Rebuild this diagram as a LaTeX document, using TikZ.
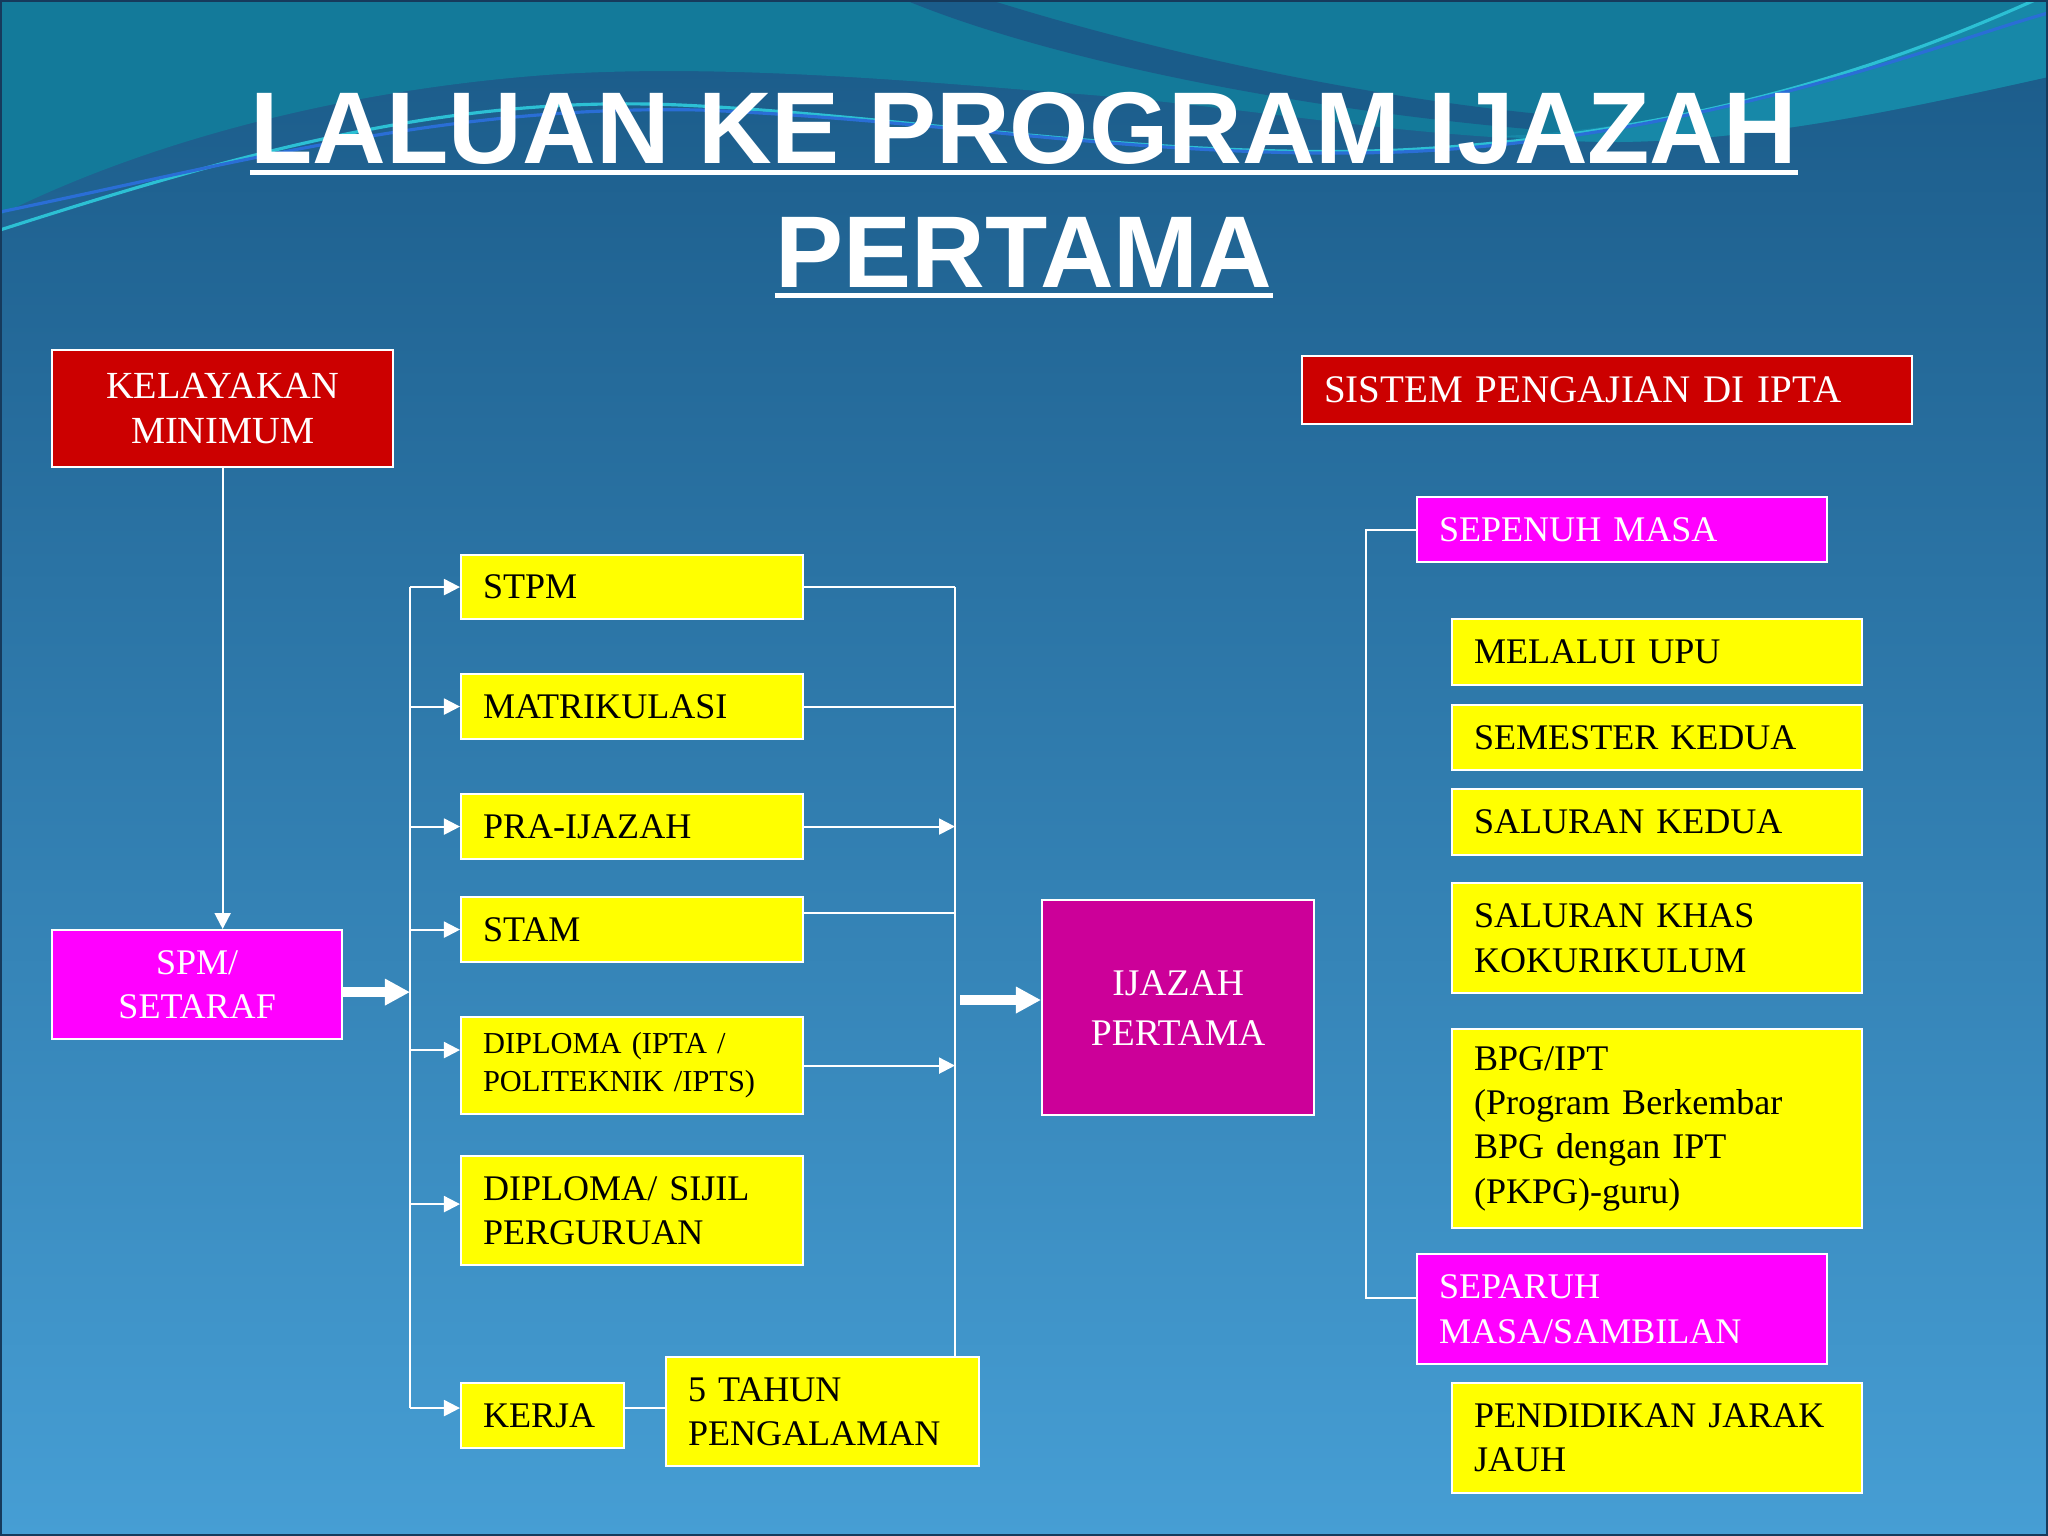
\documentclass[tikz,border=0pt]{standalone}
\usepackage{fontspec}
\setmainfont{Liberation Serif}
\setsansfont{Liberation Sans}
\usetikzlibrary{arrows.meta}
\definecolor{redc}{HTML}{CC0000}
\definecolor{magc}{HTML}{FF00FF}
\definecolor{dmagc}{HTML}{CC0099}
\definecolor{yelc}{HTML}{FFFF00}
\definecolor{bgtop}{HTML}{1A5A88}
\definecolor{bgmid}{HTML}{3182B8}
\definecolor{bgbot}{HTML}{469ED4}
\definecolor{tealc}{HTML}{137A9A}
\definecolor{tealb}{HTML}{1788A8}
\definecolor{swoosh}{HTML}{1A5C8A}
\definecolor{cyanl}{HTML}{2CC0D4}
\definecolor{bluel}{HTML}{2A6ED6}
\definecolor{framec}{HTML}{163A5C}
\tikzset{
  bx/.style={draw=white, line width=0.6pt, inner ysep=0pt, inner xsep=0.22cm,
    anchor=north west, font=\fontsize{10.25}{12.6}\selectfont},
  ybx/.style={bx, fill=yelc, text=black, align=left},
  mbx/.style={bx, fill=magc, text=white, align=left},
  cbx/.style={bx, text=white, align=center},
  titletxt/.style={text=white, inner sep=0pt, font=\sffamily\bfseries\fontsize{29}{35}\selectfont},
  conn/.style={draw=white, line width=0.6pt},
  arr/.style={conn, -{Triangle[length=0.16cm,width=0.16cm]}},
  bigarr/.style={draw=white, line width=0.1cm, -{Triangle[length=0.25cm,width=0.25cm]}}
}
\begin{document}
\begin{tikzpicture}[x=0.01cm,y=-0.01cm]
\useasboundingbox (0,0) rectangle (2048,1536);
% background
\shade[top color=bgtop, middle color=bgmid, bottom color=bgbot] (0,0) rectangle (2048,1536);
\fill[tealc] (0,0) -- (2048,0) -- (2048,77)
  .. controls (1900,110) and (1760,140) .. (1620,142)
  .. controls (1400,140) and (1250,105) .. (1050,92)
  .. controls (850,75) and (700,66) .. (560,74)
  .. controls (350,88) and (150,140) .. (0,215) -- cycle;
\fill[tealb] (1500,136) .. controls (1700,128) and (1900,60) .. (2035,0) -- (2048,0) -- (2048,77)
  .. controls (1900,110) and (1760,140) .. (1620,142) .. controls (1580,142) and (1540,140) .. (1500,136) -- cycle;
\fill[swoosh] (905,0) -- (990,0) .. controls (1150,50) and (1350,95) .. (1540,114)
  -- (1540,130) .. controls (1300,110) and (1050,60) .. (905,0) -- cycle;
\draw[cyanl, line width=0.9pt] (0,230) .. controls (250,150) and (450,95) .. (680,105)
  .. controls (900,115) and (1150,160) .. (1400,150) .. controls (1700,135) and (1900,60) .. (2035,0);
\draw[bluel, line width=0.9pt] (0,212) .. controls (250,160) and (450,105) .. (700,110)
  .. controls (950,120) and (1150,160) .. (1400,152) .. controls (1700,140) and (1950,40) .. (2048,13);
\draw[framec, line width=0.04cm] (0,0) rectangle (2048,1536);
% title
\node[titletxt, anchor=base] (t1) at (1024,163) {LALUAN KE PROGRAM IJAZAH};
\node[titletxt, anchor=base] (t2) at (1024,287) {PERTAMA};
\draw[white, line width=0.05cm] ([yshift=-0.095cm]t1.base west) -- ([yshift=-0.095cm]t1.base east);
\draw[white, line width=0.05cm] ([yshift=-0.085cm]t2.base west) -- ([yshift=-0.085cm]t2.base east);
% left boxes
\node[cbx, fill=redc, minimum width=3.41cm, minimum height=1.17cm, font=\fontsize{10.9}{12.6}\selectfont] (kel) at (51,349) {KELAYAKAN\\MINIMUM};
\node[cbx, fill=magc, minimum width=2.90cm, minimum height=1.09cm] (spm) at (51,929) {SPM/\\SETARAF};
\node[ybx, minimum width=3.42cm, text width=2.98cm, minimum height=0.64cm] (stpm) at (460,554) {STPM};
\node[ybx, minimum width=3.42cm, text width=2.98cm, minimum height=0.65cm] (matrik) at (460,673) {MATRIKULASI};
\node[ybx, minimum width=3.42cm, text width=2.98cm, minimum height=0.65cm] (praij) at (460,793) {PRA-IJAZAH};
\node[ybx, minimum width=3.42cm, text width=2.98cm, minimum height=0.65cm] (stam) at (460,896) {STAM};
\node[ybx, minimum width=3.42cm, text width=2.98cm, minimum height=0.97cm, font=\fontsize{8.65}{10.8}\selectfont] (dip1) at (460,1016) {DIPLOMA (IPTA /\\POLITEKNIK /IPTS)};
\node[ybx, minimum width=3.42cm, text width=2.98cm, minimum height=1.09cm] (dip2) at (460,1155) {DIPLOMA/ SIJIL\\PERGURUAN};
\node[ybx, minimum width=1.63cm, text width=1.19cm, minimum height=0.65cm] (kerja) at (460,1382) {KERJA};
\node[ybx, minimum width=3.13cm, text width=2.69cm, minimum height=1.09cm] (tahun) at (665,1356) {5 TAHUN\\PENGALAMAN};
\node[cbx, fill=dmagc, minimum width=2.72cm, minimum height=2.15cm, font=\fontsize{10.7}{14.2}\selectfont] (ijazah) at (1041,899) {IJAZAH\\PERTAMA};
% right boxes
\node[bx, fill=redc, text=white, align=left, minimum width=6.10cm, text width=5.66cm, minimum height=0.68cm, font=\fontsize{11.1}{13}\selectfont] (sistem) at (1301,355) {SISTEM PENGAJIAN DI IPTA};
\node[mbx, minimum width=4.10cm, text width=3.66cm, minimum height=0.65cm] (sepenuh) at (1416,496) {SEPENUH MASA};
\node[ybx, minimum width=4.10cm, text width=3.66cm, minimum height=0.66cm] (upu) at (1451,618) {MELALUI UPU};
\node[ybx, minimum width=4.10cm, text width=3.66cm, minimum height=0.65cm] (semk) at (1451,704) {SEMESTER KEDUA};
\node[ybx, minimum width=4.10cm, text width=3.66cm, minimum height=0.66cm] (salk) at (1451,788) {SALURAN KEDUA};
\node[ybx, minimum width=4.10cm, text width=3.66cm, minimum height=1.10cm] (khas) at (1451,882) {SALURAN KHAS\\KOKURIKULUM};
\node[ybx, minimum width=4.10cm, text width=3.66cm, minimum height=1.99cm] (bpg) at (1451,1028) {BPG/IPT\\(Program Berkembar\\BPG dengan IPT\\(PKPG)-guru)};
\node[mbx, minimum width=4.10cm, text width=3.66cm, minimum height=1.10cm] (separuh) at (1416,1253) {SEPARUH\\MASA/SAMBILAN};
\node[ybx, minimum width=4.10cm, text width=3.66cm, minimum height=1.10cm] (pjj) at (1451,1382) {PENDIDIKAN JARAK\\JAUH};
% trunks
\coordinate (lt) at (410,0);
\coordinate (rt) at (955,0);
\coordinate (rb) at (1366,0);
\coordinate (kerjain) at ([yshift=0.075cm]kerja.west);
\coordinate (d1in) at ([yshift=0.155cm]dip1.west);
\coordinate (d2in) at ([yshift=0.065cm]dip2.west);
\coordinate (spmout) at ([yshift=-0.075cm]spm.east);
\coordinate (stamout) at ([yshift=0.165cm]stam.east);
\coordinate (ijin) at ([yshift=0.065cm]ijazah.west);
\coordinate (ijstart) at (960,1000);
\coordinate (kout) at ([yshift=0.075cm]kerja.east);
\coordinate (sp2) at ([yshift=0.11cm]separuh.west);
% connectors
\draw[arr] (kel.south) -- (kel.south |- spm.north);
\draw[bigarr] (spmout) -- (lt |- spmout);
\draw[conn] (lt |- stpm.west) -- (lt |- kerjain);
\foreach \n in {stpm,matrik,praij,stam} \draw[arr] (lt |- \n.west) -- (\n.west);
\draw[arr] (lt |- d1in) -- (d1in);
\draw[arr] (lt |- d2in) -- (d2in);
\draw[arr] (lt |- kerjain) -- (kerjain);
\draw[conn] (kout) -- (tahun.west |- kout);
\draw[conn] (stpm.east) -- (rt |- stpm.east);
\draw[conn] (matrik.east) -- (rt |- matrik.east);
\draw[arr] (praij.east) -- (rt |- praij.east);
\draw[conn] (stamout) -- (rt |- stamout);
\draw[arr] (dip1.east) -- (rt |- dip1.east);
\draw[conn] (rt |- stpm.east) -- (rt |- tahun.north);
\draw[bigarr] (ijstart) -- (ijstart -| ijazah.west);
\draw[conn] (sepenuh.west) -- (rb |- sepenuh.west) -- (rb |- sp2) -- (sp2);
\end{tikzpicture}
\end{document}
